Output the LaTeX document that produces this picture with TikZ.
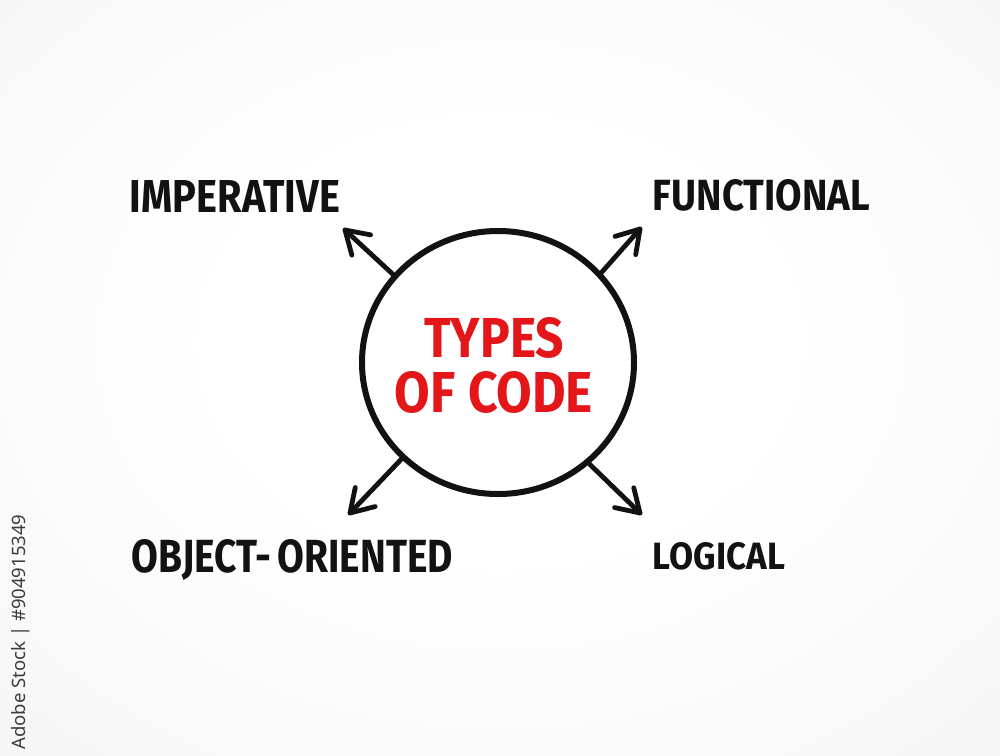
\documentclass[tikz,border=0pt]{standalone}
\usepackage{fontspec}
\usepackage{graphicx}
\usetikzlibrary{calc,shapes.geometric}
\newfontfamily\handfont{Fira Sans}
\newfontfamily\wmfont{Noto Sans}
\definecolor{bggray}{RGB}{232,232,232}
\definecolor{inkred}{RGB}{228,22,26}
\definecolor{ink}{RGB}{18,18,18}
\definecolor{wmgray}{RGB}{60,60,60}
\pgfdeclareradialshading{bgshade}{\pgfpoint{0bp}{3bp}}{%
  color(0bp)=(white); color(14bp)=(white); color(72bp)=(bggray)}
\tikzset{
  lbl/.style={inner sep=0pt, outer sep=0pt, text=ink, anchor=center},
  ttl/.style={inner sep=0pt, outer sep=0pt, text=inkred, anchor=center},
  hub/.style={draw=ink, line width=6pt, ellipse, minimum width=272pt, minimum height=263pt, inner sep=0pt},
  conn/.style={draw=ink, line width=4.8pt, line cap=round},
  barb/.style={draw=ink, line width=4.8pt, line cap=round, line join=round}
}
\newcommand\barbtip[2]{\draw[barb] ($(#1)!26pt!32:(#2)$) -- (#1) -- ($(#1)!26pt!-32:(#2)$);}
\begin{document}
\begin{tikzpicture}[x=1pt,y=-1pt]
\useasboundingbox (0,0) rectangle (1000,755);
\shade[shading=bgshade] (0,0) rectangle (1000,755);

\node[hub] (c) at (498,362.5) {};
\node[ttl] (t1) at (494,338) {\resizebox{140pt}{40pt}{\handfont\bfseries TYPES}};
\node[ttl] (t2) at (494,392) {\resizebox{198pt}{41pt}{\handfont\bfseries OF CODE}};

\node[lbl] (imp) at (235,196) {\resizebox{210pt}{32pt}{\handfont\bfseries IMPERATIVE}};
\node[lbl] (fun) at (761.5,195) {\resizebox{217pt}{31pt}{\handfont\bfseries FUNCTIONAL}};
\node[lbl] (oop) at (292.5,560) {\resizebox{321pt}{33pt}{\handfont\bfseries OBJECT-\,ORIENTED}};
\node[lbl] (log) at (719,556) {\resizebox{132pt}{27pt}{\handfont\bfseries LOGICAL}};

\coordinate (tIL) at (345,230);
\coordinate (tFN) at (640,229);
\coordinate (tOO) at (350,513);
\coordinate (tLG) at (640,513);

\draw[conn] (c.140) -- (tIL);
\draw[conn] (c.41) -- (tFN);
\draw[conn] (c.225) -- (tOO);
\draw[conn] (c.312) -- (tLG);
\barbtip{tIL}{c.140}
\barbtip{tFN}{c.41}
\barbtip{tOO}{c.225}
\barbtip{tLG}{c.312}

\node[inner sep=0pt, rotate=90, text=wmgray] (wm) at (21,632)
  {\resizebox{235pt}{14pt}{\wmfont Adobe Stock | \#904915349}};
\end{tikzpicture}
\end{document}
